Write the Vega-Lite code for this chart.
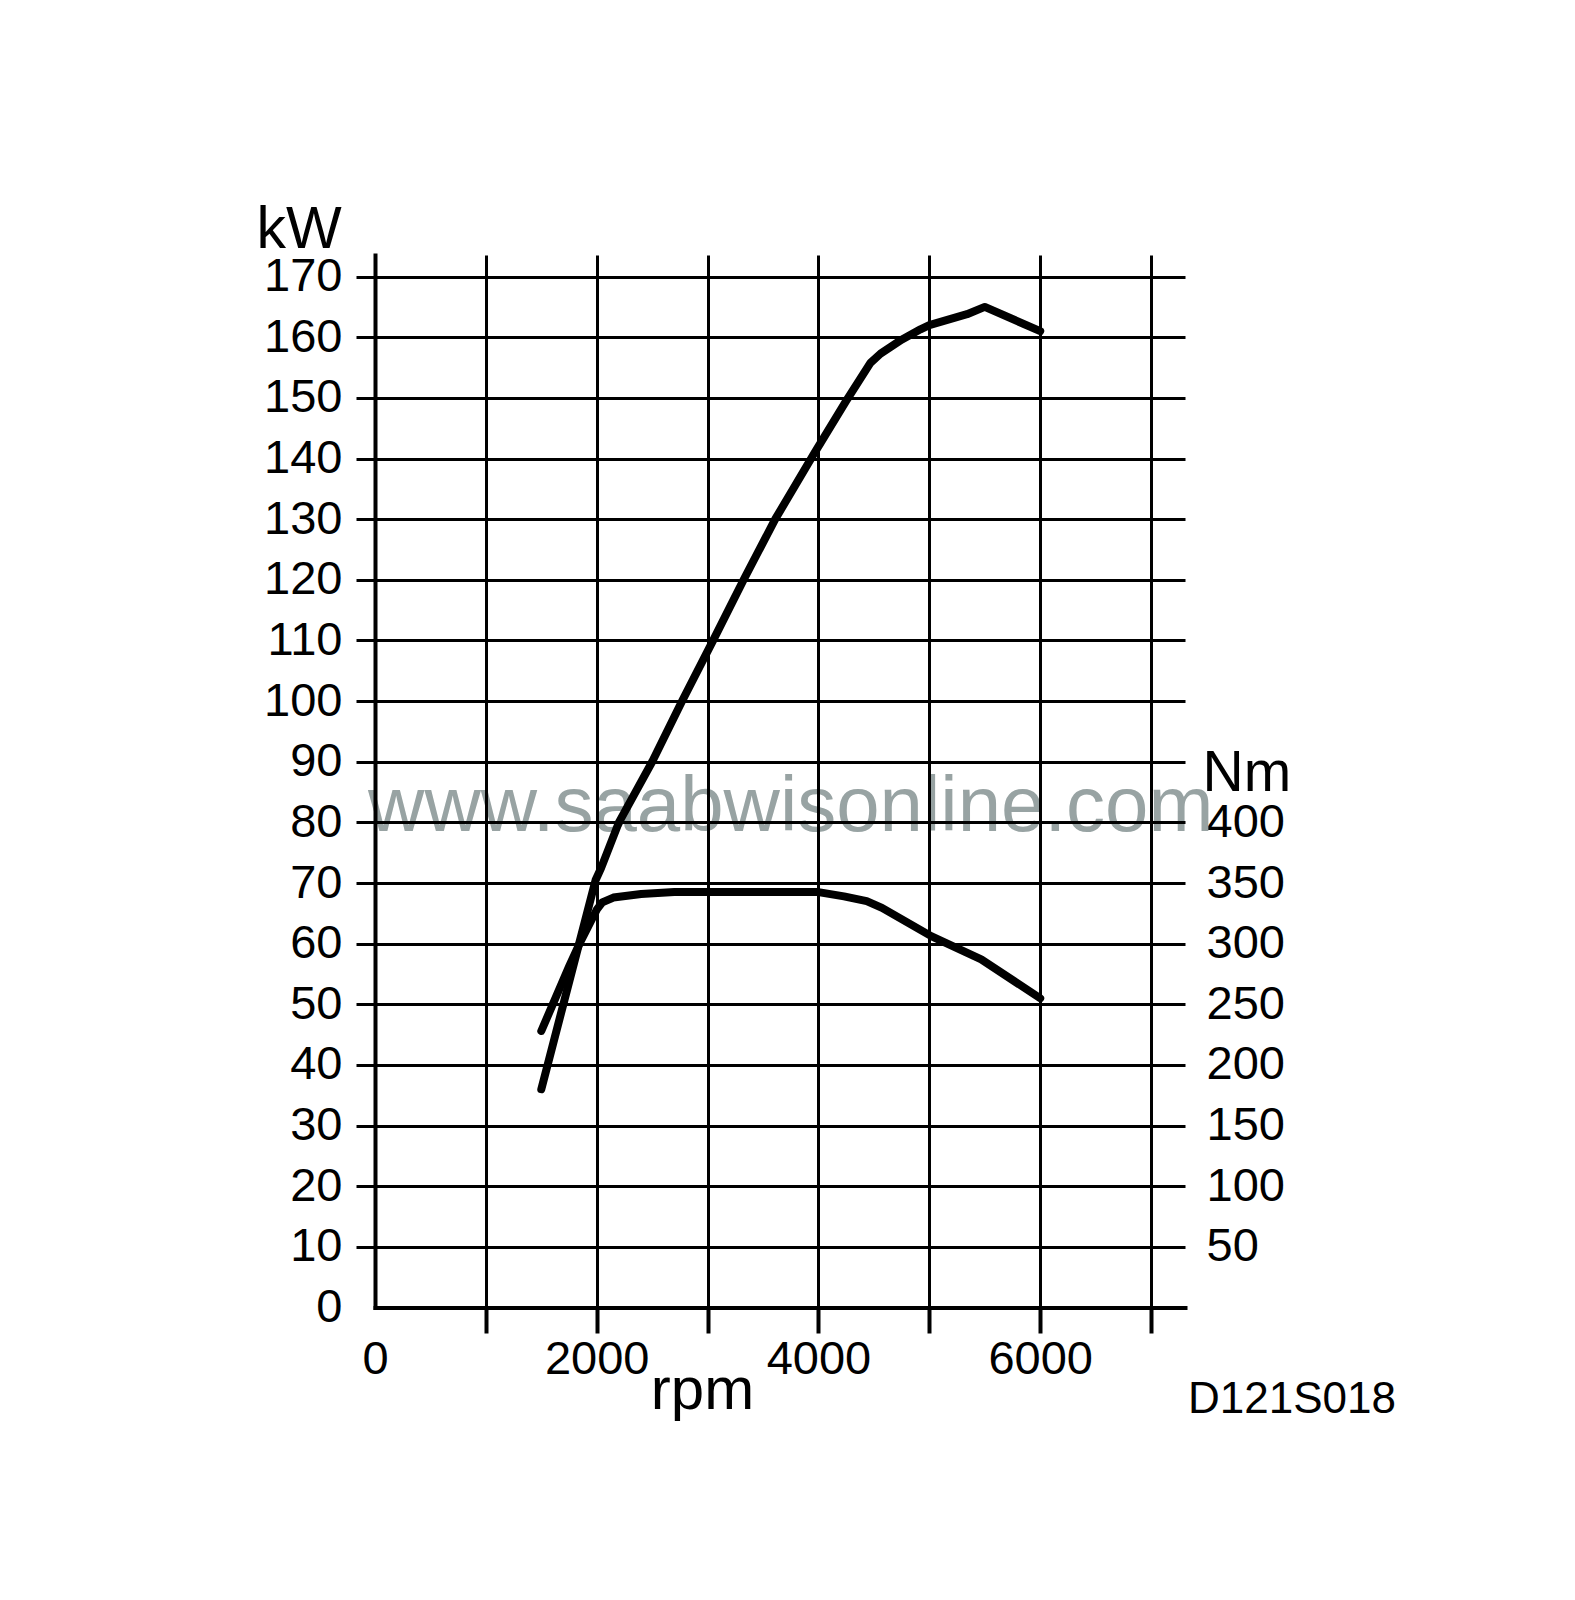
{
  "$schema": "https://vega.github.io/schema/vega-lite/v6.json",
  "width": 810,
  "height": 1052.5,
  "autosize": "none",
  "padding": {"left": 375, "top": 255, "right": 390, "bottom": 292.5},
  "background": "white",
  "config": {"view": {"stroke": null}, "font": "Liberation Sans"},
  "datasets": {
    "power": [
      {"rpm": 1500, "kW": 36},
      {"rpm": 1990, "kW": 70.5},
      {"rpm": 2040, "kW": 72.5},
      {"rpm": 2200, "kW": 80},
      {"rpm": 2500, "kW": 90},
      {"rpm": 2770, "kW": 100},
      {"rpm": 3050, "kW": 110},
      {"rpm": 3325, "kW": 120},
      {"rpm": 3610, "kW": 130},
      {"rpm": 3950, "kW": 140.5},
      {"rpm": 4000, "kW": 142},
      {"rpm": 4250, "kW": 149.5},
      {"rpm": 4470, "kW": 155.8},
      {"rpm": 4560, "kW": 157.3},
      {"rpm": 4750, "kW": 159.6},
      {"rpm": 4920, "kW": 161.3},
      {"rpm": 5000, "kW": 162},
      {"rpm": 5340, "kW": 163.8},
      {"rpm": 5500, "kW": 165},
      {"rpm": 6000, "kW": 161}
    ],
    "torque": [
      {"rpm": 1500, "Nm": 228},
      {"rpm": 1750, "Nm": 281},
      {"rpm": 1850, "Nm": 301},
      {"rpm": 2000, "Nm": 328},
      {"rpm": 2050, "Nm": 334},
      {"rpm": 2150, "Nm": 338},
      {"rpm": 2400, "Nm": 341},
      {"rpm": 2700, "Nm": 342.5},
      {"rpm": 4000, "Nm": 342.5},
      {"rpm": 4230, "Nm": 339},
      {"rpm": 4435, "Nm": 335},
      {"rpm": 4573, "Nm": 329.5},
      {"rpm": 5021, "Nm": 306},
      {"rpm": 5468, "Nm": 287},
      {"rpm": 6000, "Nm": 255}
    ],
    "watermark": [
      {"rpm": 3750, "kW": 78.6, "text": "www.saabwisonline.com"}
    ],
    "code": [
      {"rpm": 7333, "kW": -17.4, "text": "D121S018"}
    ]
  },
  "layer": [
    {
      "layer": [
        {
          "data": {"name": "watermark"},
          "mark": {"type": "text", "font": "Liberation Sans", "fontSize": 78, "color": "#98a3a3", "align": "center", "baseline": "alphabetic"},
          "encoding": {
            "x": {"field": "rpm", "type": "quantitative", "scale": {"domain": [0, 7306], "nice": false, "zero": false}},
            "y": {"field": "kW", "type": "quantitative", "scale": {"domain": [0, 173.56], "nice": false, "zero": false}},
            "text": {"field": "text"}
          }
        },
        {
          "data": {"name": "power"},
          "mark": {"type": "line", "stroke": "black", "strokeWidth": 8, "strokeCap": "round", "strokeJoin": "round"},
          "encoding": {
            "x": {
              "field": "rpm", "type": "quantitative",
              "scale": {"domain": [0, 7306], "nice": false, "zero": false},
              "axis": {
                "orient": "bottom",
                "values": [0, 1000, 2000, 3000, 4000, 5000, 6000, 7000],
                "format": "d",
                "labelExpr": "datum.value % 2000 === 0 ? datum.label : ''",
                "labelFlush": false,
                "labelOverlap": false,
                "labelFontSize": 47,
                "labelColor": "black",
                "labelPadding": 3.5,
                "grid": true,
                "gridColor": "black",
                "gridWidth": 3,
                "gridOpacity": 1,
                "ticks": true,
                "tickSize": 25.5,
                "tickWidth": 4,
                "tickColor": "black",
                "tickOpacity": {"condition": {"test": "datum.value === 0", "value": 0}, "value": 1},
                "domain": true,
                "domainColor": "black",
                "domainWidth": 4,
                "domainCap": "square",
                "title": "rpm",
                "titleFontSize": 60,
                "titleFontWeight": "normal",
                "titleColor": "black",
                "titleX": 327,
                "titleY": 100.5,
                "titleAlign": "center",
                "titleBaseline": "alphabetic",
                "zindex": 1
              }
            },
            "y": {
              "field": "kW", "type": "quantitative",
              "scale": {"domain": [0, 173.56], "nice": false, "zero": false},
              "axis": {
                "orient": "left",
                "values": [0, 10, 20, 30, 40, 50, 60, 70, 80, 90, 100, 110, 120, 130, 140, 150, 160, 170],
                "format": "d",
                "labelFlush": false,
                "labelOverlap": false,
                "labelFontSize": 47,
                "labelColor": "black",
                "labelPadding": 14,
                "grid": true,
                "gridColor": "black",
                "gridWidth": 3,
                "gridOpacity": 1,
                "ticks": true,
                "tickSize": 19,
                "tickWidth": 3,
                "tickColor": "black",
                "tickOpacity": {"condition": {"test": "datum.value === 0", "value": 0}, "value": 1},
                "domain": true,
                "domainColor": "black",
                "domainWidth": 4,
                "domainCap": "square",
                "title": "kW",
                "titleFontSize": 59,
                "titleFontWeight": "normal",
                "titleColor": "black",
                "titleAngle": 0,
                "titleX": -119,
                "titleY": -8,
                "titleAlign": "left",
                "titleBaseline": "alphabetic",
                "zindex": 1
              }
            }
          }
        },
        {
          "data": {"name": "code"},
          "mark": {"type": "text", "font": "Liberation Sans", "fontSize": 44, "color": "black", "align": "left", "baseline": "alphabetic"},
          "encoding": {
            "x": {"field": "rpm", "type": "quantitative", "scale": {"domain": [0, 7306], "nice": false, "zero": false}},
            "y": {"field": "kW", "type": "quantitative", "scale": {"domain": [0, 173.56], "nice": false, "zero": false}},
            "text": {"field": "text"}
          }
        }
      ]
    },
    {
      "data": {"name": "torque"},
      "mark": {"type": "line", "stroke": "black", "strokeWidth": 8, "strokeCap": "round", "strokeJoin": "round"},
      "encoding": {
        "x": {"field": "rpm", "type": "quantitative", "scale": {"domain": [0, 7306], "nice": false, "zero": false}},
        "y": {
          "field": "Nm", "type": "quantitative",
          "scale": {"domain": [0, 867.8], "nice": false, "zero": false},
          "axis": {
            "orient": "right",
            "values": [50, 100, 150, 200, 250, 300, 350, 400],
            "format": "d",
            "labelFlush": false,
            "labelOverlap": false,
            "labelFontSize": 47,
            "labelColor": "black",
            "labelPadding": 21,
            "grid": false,
            "ticks": false,
            "domain": false,
            "title": "Nm",
            "titleFontSize": 57,
            "titleFontWeight": "normal",
            "titleColor": "black",
            "titleAngle": 0,
            "titleX": 17,
            "titleY": 535,
            "titleAlign": "left",
            "titleBaseline": "alphabetic"
          }
        }
      }
    }
  ],
  "resolve": {"scale": {"y": "independent"}}
}
